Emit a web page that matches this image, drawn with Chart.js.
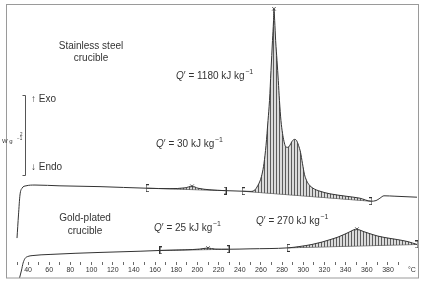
<!DOCTYPE html>
<html>
<head>
<meta charset="utf-8">
<script src="https://cdn.jsdelivr.net/npm/chart.js@4.4.1/dist/chart.umd.min.js"></script>
<style>
  html, body { margin: 0; padding: 0; background: #fff; }
  #wrap { width: 424px; height: 282px; }
</style>
</head>
<body>
<div id="wrap"><canvas id="dscChart" width="424" height="282"></canvas></div>
<script>
// DSC traces, temperature in °C, heat flow in W g^-1 (curves are offset)
const steelTemp = [29.6, 31.0, 32.4, 34.3, 38.1, 46.6, 70.2, 108.0, 152.4, 174.1, 188.3, 194.9, 200.6, 211.9, 226.1,
  243.1, 249.7, 253.5, 255.3, 257.2, 259.1, 261.0, 262.9, 264.8, 266.7, 268.1, 269.5, 270.9, 271.9, 272.3,
  273.0, 273.9, 275.2, 276.4, 277.5, 278.9, 280.4, 281.8, 283.2, 285.1, 287.0, 289.3, 291.7, 293.6, 295.5,
  297.4, 299.2, 301.1, 303.0, 305.4, 309.2, 315.8, 325.2, 340.3, 353.5, 363.9, 368.7, 372.4, 376.2, 386.6, 407.4];
const steelFlow = [0.60, 1.18, 1.68, 1.85, 1.91, 1.93, 1.91, 1.89, 1.85, 1.84, 1.86, 1.90, 1.85, 1.81, 1.79,
  1.775, 1.77, 1.79, 1.84, 1.925, 2.03, 2.20, 2.475, 2.925, 3.55, 4.05, 4.80, 5.55, 6.05, 6.35,
  6.05, 5.55, 5.05, 4.55, 4.05, 3.55, 3.225, 3.025, 2.90, 2.875, 2.91, 3.025, 3.075, 3.05, 2.925,
  2.75, 2.475, 2.20, 2.05, 1.94, 1.85, 1.775, 1.71, 1.65, 1.60, 1.525, 1.54, 1.60, 1.66, 1.65, 1.625];

const goldTemp = [32.0, 33.9, 35.3, 37.2, 40.0, 43.8, 60.8, 108.0, 145.8, 165.6, 188.3, 202.4, 210.0, 216.6, 228.9,
  249.7, 285.6, 296.9, 308.2, 317.7, 325.2, 332.8, 339.4, 344.1, 347.9, 350.7, 353.5, 357.3, 363.0, 370.5,
  380.0, 389.4, 398.9, 407.4];
const goldFlow = [-0.40, -0.20, -0.03, 0.09, 0.14, 0.16, 0.19, 0.24, 0.27, 0.29, 0.305, 0.325, 0.35, 0.325, 0.32,
  0.33, 0.355, 0.39, 0.44, 0.50, 0.56, 0.625, 0.70, 0.76, 0.81, 0.825, 0.80, 0.76, 0.71, 0.65,
  0.60, 0.56, 0.51, 0.44];

// integration baselines, [ start ] end, null = break between the two peaks
const steelBaseTemp = [152.4, 226.1, 234.0, 243.1, 363.9];
const steelBaseFlow = [1.85, 1.79, null, 1.775, 1.525];
const goldBaseTemp = [165.6, 228.9, 257.0, 285.6, 407.4];
const goldBaseFlow = [0.29, 0.32, null, 0.355, 0.44];

// peak maxima marked with x
const peakTemp = [194.9, 272.3, 210.0, 350.7];
const peakFlow = [1.90, 6.35, 0.35, 0.825];

const majorTicks = [40, 60, 80, 100, 120, 140, 160, 180, 200, 220, 240, 260, 280, 300, 320, 340, 360, 380];
const minorTicks = [30, 50, 70, 90, 110, 130, 150, 170, 190, 210, 230, 250, 270, 290, 310, 330, 350, 370, 390];
const unitTick = 402.6;
const unitLabel = '°C';

const FONT = '"Liberation Sans", Arial, Helvetica, sans-serif';
const INK = '#333';

const pts = (xs, ys) => xs.map((x, i) => ({ x: x, y: ys[i] }));

const canvas = document.getElementById('dscChart');
const mainCtx = canvas.getContext('2d');

function makeHatch() {
  const c = document.createElement('canvas');
  c.width = 3; c.height = 1;
  const g = c.getContext('2d');
  g.fillStyle = 'rgba(195,195,195,0.6)';
  g.fillRect(0, 0, 3, 1);
  g.fillStyle = 'rgba(70,70,70,0.85)';
  g.fillRect(0, 0, 1, 1);
  return mainCtx.createPattern(c, 'repeat');
}

function makeBracket(left) {
  const c = document.createElement('canvas');
  c.width = 3; c.height = 8;
  const g = c.getContext('2d');
  g.fillStyle = INK;
  g.fillRect(left ? 0 : 2, 0, 1, 8);
  g.fillRect(0, 0, 3, 1);
  g.fillRect(0, 7, 3, 1);
  return c;
}

const hatch = makeHatch();
const openBr = makeBracket(true);
const closeBr = makeBracket(false);
const bracketStyle = c => (c.dataIndex === 0 || c.dataIndex === 3) ? openBr : closeBr;

// Q' = ... kJ kg^-1 with italic Q and superscript
function drawQ(ctx, x, y, value) {
  ctx.textBaseline = 'middle';
  ctx.textAlign = 'left';
  ctx.font = 'italic 10px ' + FONT;
  ctx.fillText('Q', x, y);
  let cx = x + ctx.measureText('Q').width;
  ctx.font = '10px ' + FONT;
  const body = '\u2032 = ' + value + ' kJ kg';
  ctx.fillText(body, cx, y);
  cx += ctx.measureText(body).width + 0.5;
  ctx.font = '7px ' + FONT;
  ctx.fillText('\u22121', cx, y - 4);
}

const decorations = {
  id: 'decorations',
  afterDraw(chart) {
    const ctx = chart.ctx;
    ctx.save();
    // frame
    ctx.strokeStyle = '#9a9a9a';
    ctx.lineWidth = 1;
    ctx.strokeRect(6.5, 4.5, 412, 273.5);

    ctx.fillStyle = INK;
    ctx.font = '10px ' + FONT;
    ctx.textAlign = 'center';
    ctx.textBaseline = 'middle';
    ctx.fillText('Stainless steel', 91, 46);
    ctx.fillText('crucible', 91, 58);
    ctx.fillText('Gold-plated', 85, 218);
    ctx.fillText('crucible', 85, 231);

    drawQ(ctx, 176, 76, '1180');
    drawQ(ctx, 156, 144, '30');
    drawQ(ctx, 154, 228, '25');
    drawQ(ctx, 256, 221, '270');

    // heat flow scale bar
    ctx.strokeStyle = '#555';
    ctx.lineWidth = 1;
    ctx.beginPath();
    ctx.moveTo(22.5, 95.5); ctx.lineTo(25.5, 95.5); ctx.lineTo(25.5, 175.5); ctx.lineTo(22.5, 175.5);
    ctx.stroke();
    ctx.textAlign = 'left';
    ctx.font = '10px ' + FONT;
    ctx.fillText('\u2191 Exo', 31, 99);
    ctx.fillText('\u2193 Endo', 31, 167);
    ctx.font = '6px ' + FONT;
    ctx.fillText('W g', 2, 141);
    ctx.font = '4.5px ' + FONT;
    ctx.fillText('\u22121', 17, 138.5);
    ctx.fillText('2', 20, 135);
    ctx.restore();
  }
};

new Chart(canvas, {
  type: 'line',
  data: {
    datasets: [
      {
        data: pts(steelTemp, steelFlow),
        borderColor: INK, borderWidth: 1, pointRadius: 0,
        cubicInterpolationMode: 'monotone',
        fill: 1, backgroundColor: hatch, clip: false
      },
      {
        data: pts(steelBaseTemp, steelBaseFlow),
        borderColor: '#444', borderWidth: 0.8, spanGaps: false,
        pointRadius: 3, pointStyle: bracketStyle, fill: false
      },
      {
        data: pts(goldTemp, goldFlow),
        borderColor: INK, borderWidth: 1, pointRadius: 0,
        cubicInterpolationMode: 'monotone',
        fill: 3, backgroundColor: hatch, clip: false
      },
      {
        data: pts(goldBaseTemp, goldBaseFlow),
        borderColor: '#444', borderWidth: 0.8, spanGaps: false,
        pointRadius: 3, pointStyle: bracketStyle, fill: false
      },
      {
        data: pts(peakTemp, peakFlow),
        showLine: false, pointStyle: 'crossRot', pointRadius: 2.5,
        pointBorderColor: INK, pointBorderWidth: 0.8
      }
    ]
  },
  options: {
    responsive: false,
    devicePixelRatio: 1,
    animation: false,
    layout: { padding: { left: 6, right: 5, top: 4, bottom: 4 } },
    plugins: { legend: { display: false }, tooltip: { enabled: false } },
    scales: {
      x: {
        type: 'linear',
        min: 19.2,
        max: 409.3,
        afterBuildTicks: s => {
          s.ticks = minorTicks.concat(majorTicks, [unitTick]).sort((a, b) => a - b).map(v => ({ value: v }));
        },
        afterFit: s => { s.height = 16; },
        border: { display: false },
        grid: {
          drawOnChartArea: false,
          tickLength: 3,
          lineWidth: 0.8,
          tickColor: c => (c.tick && c.tick.value === unitTick) ? 'rgba(0,0,0,0)' : '#444'
        },
        ticks: {
          autoSkip: false,
          maxRotation: 0,
          padding: 1,
          color: INK,
          font: { size: 7, family: FONT },
          callback: v => v === unitTick ? unitLabel : (majorTicks.includes(v) ? String(v) : '')
        }
      },
      y: { display: false, min: 0, max: 6.45 }
    }
  },
  plugins: [decorations]
});
</script>
</body>
</html>
